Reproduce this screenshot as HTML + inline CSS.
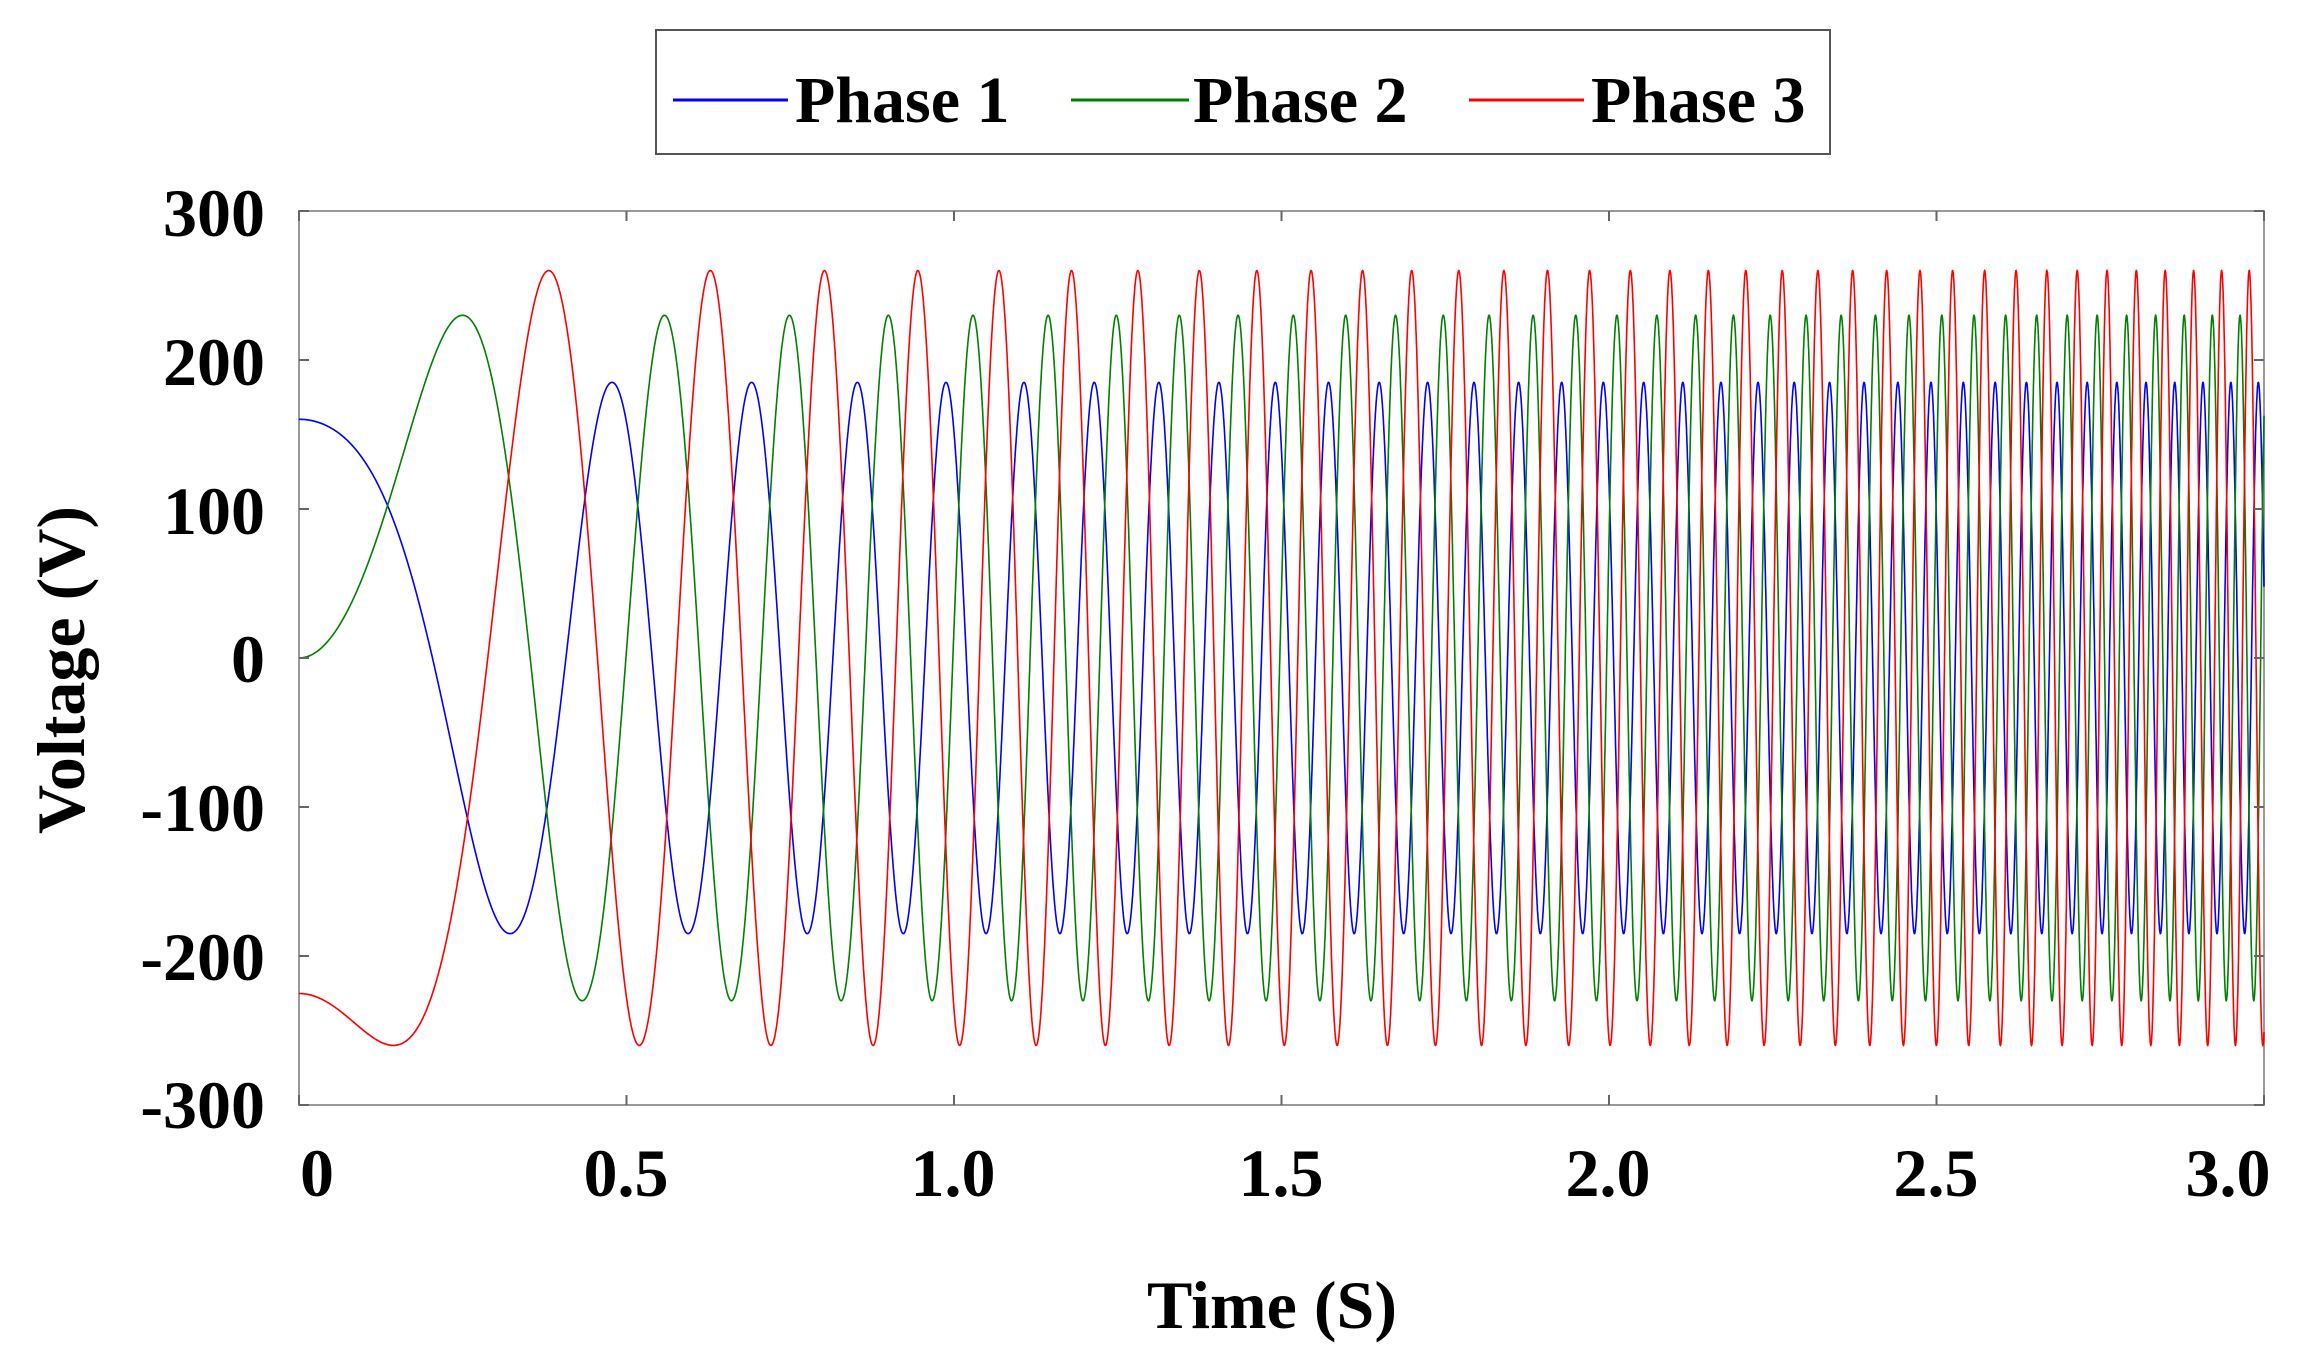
<!DOCTYPE html>
<html><head><meta charset="utf-8">
<style>
html,body{margin:0;padding:0;background:#fff;}
svg{display:block;}
text{font-family:"Liberation Serif",serif;font-weight:bold;fill:#000;}
</style></head>
<body>
<svg id="s" width="2310" height="1361" viewBox="0 0 2310 1361" xmlns="http://www.w3.org/2000/svg">
<rect x="0" y="0" width="2310" height="1361" fill="#fff"/>
<rect x="656" y="30" width="1174" height="124" fill="#fff" stroke="#555" stroke-width="2"/>
<line x1="673" y1="100" x2="788" y2="100" stroke="#0000ff" stroke-width="3"/>
<text x="795" y="122" font-size="66">Phase 1</text>
<line x1="1071" y1="100" x2="1189" y2="100" stroke="#008000" stroke-width="3"/>
<text x="1193" y="122" font-size="66">Phase 2</text>
<line x1="1469" y1="100" x2="1584" y2="100" stroke="#ff0000" stroke-width="3"/>
<text x="1591" y="122" font-size="66">Phase 3</text>
<rect x="299" y="211" width="1965" height="894" fill="#fff" stroke="#999" stroke-width="2"/>
<g id="series"></g>
<g id="ticks" stroke="#666" stroke-width="2"></g>
<g font-size="68" text-anchor="end">
<text x="265" y="236">300</text>
<text x="265" y="385">200</text>
<text x="265" y="534">100</text>
<text x="265" y="682">0</text>
<text x="265" y="831">-100</text>
<text x="265" y="980">-200</text>
<text x="265" y="1128">-300</text>
</g>
<g font-size="68" text-anchor="middle">
<text x="317" y="1196">0</text>
<text x="626" y="1196">0.5</text>
<text x="953" y="1196">1.0</text>
<text x="1281" y="1196">1.5</text>
<text x="1608" y="1196">2.0</text>
<text x="1936" y="1196">2.5</text>
<text x="2228" y="1196">3.0</text>
</g>
<text x="1272" y="1328" font-size="68" text-anchor="middle">Time (S)</text>
<text transform="translate(84,670) rotate(-90)" font-size="68" text-anchor="middle">Voltage (V)</text>
</svg>
<script>
(function(){
var L=299,R=2264,T=211,B=1105;
function X(t){return L+(R-L)*t/3;}
function Y(v){return T+(B-T)*(300-v)/600;}
var ns="http://www.w3.org/2000/svg";
var g=document.getElementById('series');
var defs=[[185,30,'#0000ff'],[230,-90,'#008000'],[260,150,'#ff0000']];
defs.forEach(function(d){
  var pts=[];
  for(var i=0;i<=12000;i++){
    var t=3*i/12000;
    var th=(1445*t*t+d[1])*Math.PI/180;
    pts.push(X(t).toFixed(1)+','+Y(d[0]*Math.cos(th)).toFixed(1));
  }
  var p=document.createElementNS(ns,'polyline');
  p.setAttribute('points',pts.join(' '));
  p.setAttribute('fill','none');
  p.setAttribute('stroke',d[2]);
  p.setAttribute('stroke-width','1.6');
  g.appendChild(p);
});
var tk=document.getElementById('ticks');
function ln(a,b,c,d){var l=document.createElementNS(ns,'line');l.setAttribute('x1',a);l.setAttribute('y1',b);l.setAttribute('x2',c);l.setAttribute('y2',d);tk.appendChild(l);}
for(var v=-300;v<=300;v+=100){ln(L,Y(v),L+10,Y(v));ln(R-10,Y(v),R,Y(v));}
for(var t=0;t<=3.001;t+=0.5){ln(X(t),B,X(t),B-10);ln(X(t),T,X(t),T+10);}
})();
</script>
</body></html>
